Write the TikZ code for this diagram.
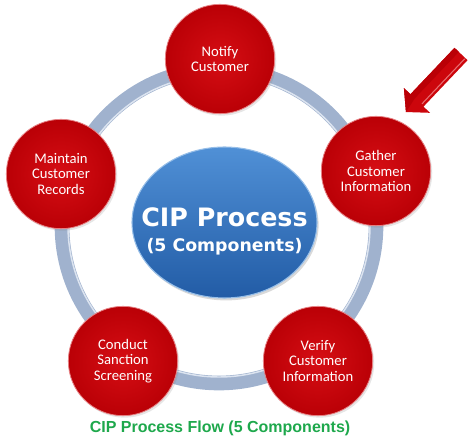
\documentclass[tikz,border=0pt]{standalone}
\usepackage{fontspec}
\usetikzlibrary{shapes.geometric}
\usetikzlibrary{shadows}
\newfontfamily\stagefont{Carlito}
\newfontfamily\hubfont{DejaVu Sans}
\newfontfamily\capfont{Liberation Sans}
\definecolor{cipred}{RGB}{204,6,12}
\definecolor{cipredlight}{RGB}{214,14,20}
\definecolor{cipreddark}{RGB}{186,0,6}
\definecolor{ringblue}{RGB}{160,178,206}
\definecolor{ringlight}{RGB}{220,228,240}
\definecolor{hubtop}{RGB}{80,144,214}
\definecolor{hubbottom}{RGB}{34,92,166}
\definecolor{hubrim}{RGB}{150,190,232}
\definecolor{capgreen}{RGB}{30,168,76}

\begin{document}
\begin{tikzpicture}[x=0.75pt,y=0.75pt,
  stage/.style={circle,minimum size=82pt,inner sep=0pt,align=center,
    inner color=cipredlight,outer color=cipreddark,draw=cipred!50!white,line width=0.6pt,
    drop shadow={opacity=0.2,shadow xshift=1.2pt,shadow yshift=-1.5pt},
    text=white,font=\stagefont\fontsize{11}{11.6}\selectfont},
  hub/.style={ellipse,minimum width=138.75pt,minimum height=113.25pt,inner sep=0pt,
    top color=hubtop,bottom color=hubbottom,draw=hubrim,line width=0.8pt,
    drop shadow={opacity=0.3,shadow xshift=1.2pt,shadow yshift=-1.8pt}},
  ringband/.style={draw=ringblue,line width=11pt},
  ringedge/.style={draw=ringlight,line width=1.1pt}]
  \def\rring{157};
  \useasboundingbox (0,0) rectangle (474,444);
  \coordinate (ringc) at (219,218);
  % ring behind the stages
  \draw[ringband] (ringc) circle (\rring);
  \draw[ringedge] (ringc) circle (\rring-6);
  % centre
  \node[hub] (hub) at (224.5,221.5) {};
  \node[text=white,align=center,font=\hubfont\bfseries\fontsize{19}{19}\selectfont] (hubtext) at (224.5,212.5)
    {CIP Process\\{\fontsize{13}{19}\selectfont (5 Components)}};
  % five stages
  \node[stage] (notify) at (220,385) {Notify\\Customer};
  \node[stage] (gather) at (376,273) {Gather\\Customer\\Information};
  \node[stage] (verify) at (318,83) {Verify\\Customer\\Information};
  \node[stage] (conduct) at (123,83) {Conduct\\Sanction\\Screening};
  \node[stage] (maintain) at (61,270) {Maintain\\Customer\\Records};
  % pointer
  \coordinate (arrowtail) at (461,390);
  \begin{scope}[shift={(arrowtail)},rotate=226.5]
    \fill[cipred] (0,9)--(64,9)--(64,18)--(80,0)--(64,-18)--(64,-9)--(0,-9)--cycle;
    \fill[cipreddark] (0,-9)--(64,-9)--(64,-18)--(80,0)--(64,-3)--(0,-3)--cycle;
    \draw[cipredlight!60!white,line width=0.8pt] (1,6)--(63,6);
  \end{scope}
  \node[font=\capfont\bfseries\fontsize{12}{14}\selectfont,text=capgreen] (caption) at (220,16)
    {CIP Process Flow (5 Components)};
\end{tikzpicture}
\end{document}
